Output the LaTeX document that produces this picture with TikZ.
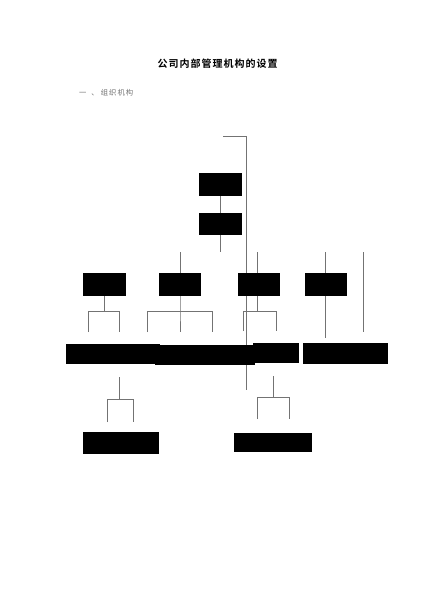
\documentclass[tikz,border=0pt]{standalone}
\usepackage{fontspec}
\newfontfamily\cjk{Noto Sans CJK SC}
\newfontfamily\cjkb[LetterSpace=10]{Noto Sans CJK SC Bold}
\newfontfamily\cjks[LetterSpace=15]{Noto Sans CJK SC}
\pgfdeclarelayer{paper}
\pgfdeclarelayer{bg}
\pgfsetlayers{paper,bg,main}
\tikzset{
  blk/.style={fill=black, draw=none, inner sep=0pt, outer sep=0pt},
  ln/.style={draw=black!55, line width=0.8pt},
}
\begin{document}
\begin{tikzpicture}[x=1pt,y=-1pt]
\begin{pgfonlayer}{paper}
\fill[white] (0,0) rectangle (432,600);
\end{pgfonlayer}
\useasboundingbox (0,0) rectangle (432,600);
% texts
\node[anchor=center, inner sep=0pt] (title) at (217.5,64) {\cjkb\fontsize{10}{12}\selectfont 公司内部管理机构的设置};
\node[anchor=west, inner sep=0pt, text=black!55] (sub) at (79,93) {\cjks\fontsize{7.3}{9}\selectfont 一\hspace{5pt}、\hspace{2pt}组织机构};
% boxes
\node[blk, minimum width=43pt, minimum height=23pt] (b1) at (220.5,184.5) {};
\node[blk, minimum width=43pt, minimum height=22pt] (b2) at (220.5,224) {};
\node[blk, minimum width=43pt, minimum height=23pt] (A) at (104.5,284.5) {};
\node[blk, minimum width=42pt, minimum height=23pt] (B) at (180,284.5) {};
\node[blk, minimum width=42pt, minimum height=23pt] (C) at (259,284.5) {};
\node[blk, minimum width=42pt, minimum height=23pt] (D) at (326,284.5) {};
\node[blk, minimum width=94pt, minimum height=20pt] (r1) at (113,354.3) {};
\node[blk, minimum width=100pt, minimum height=20pt] (r2) at (205,355) {};
\node[blk, minimum width=46pt, minimum height=20pt] (r3) at (276,353.2) {};
\node[blk, minimum width=85pt, minimum height=21pt] (E) at (345.5,353.5) {};
\node[blk, minimum width=76pt, minimum height=22pt] (F) at (121,443) {};
\node[blk, minimum width=78pt, minimum height=19pt] (G) at (273,442.5) {};
% coordinates
\coordinate (t1) at (223,136);
\coordinate (t2) at (246,136);
\coordinate (t3) at (246,390);
\coordinate (b2e) at (220.5,252);
\coordinate (Bt) at (180,252);
\coordinate (Ct) at (257,252);
\coordinate (Cb) at (257,311);
\coordinate (Dt) at (325,252);
\coordinate (Db) at (325,338);
\coordinate (Ht) at (363,252);
\coordinate (Hb) at (363,332);
\coordinate (Aj) at (104.5,311);
\coordinate (Al) at (88,311);
\coordinate (Ar) at (119,311);
\coordinate (Bj) at (180,311);
\coordinate (Bl) at (147,311);
\coordinate (Br) at (212,311);
\coordinate (Cl) at (243,311);
\coordinate (Cr) at (276,311);
\coordinate (Ft) at (119,377);
\coordinate (Fj) at (119,399);
\coordinate (Fl) at (107,399);
\coordinate (Fr) at (133,399);
\coordinate (Gt) at (273,376);
\coordinate (Gj) at (273,397);
\coordinate (Gl) at (257,397);
\coordinate (Gr) at (289,397);
\begin{pgfonlayer}{bg}
\draw[ln] (t1) -- (t2) -- (t3);
\draw[ln] (b1.south) -- (b2.north);
\draw[ln] (b2.south) -- (b2e);
\draw[ln] (Bt) -- (B.north);
\draw[ln] (Ct) -- (Cb);
\draw[ln] (Dt) -- (Dt |- D.north);
\draw[ln] (Dt |- D.south) -- (Db);
\draw[ln] (Ht) -- (Hb);
% A bracket
\draw[ln] (A.south) -- (Aj);
\draw[ln] (Al |- 0,332) -- (Al) -- (Ar) -- (Ar |- 0,332);
% B bracket
\draw[ln] (B.south) -- (Bj) -- (Bj |- 0,332);
\draw[ln] (Bl |- 0,332) -- (Bl) -- (Br) -- (Br |- 0,332);
% C bracket
\draw[ln] (Cl |- 0,331) -- (Cl) -- (Cr) -- (Cr |- 0,331);
% F bracket
\draw[ln] (Ft) -- (Fj);
\draw[ln] (Fl |- 0,422) -- (Fl) -- (Fr) -- (Fr |- 0,422);
% G bracket
\draw[ln] (Gt) -- (Gj);
\draw[ln] (Gl |- 0,419) -- (Gl) -- (Gr) -- (Gr |- 0,419);
\end{pgfonlayer}
\end{tikzpicture}
\end{document}
